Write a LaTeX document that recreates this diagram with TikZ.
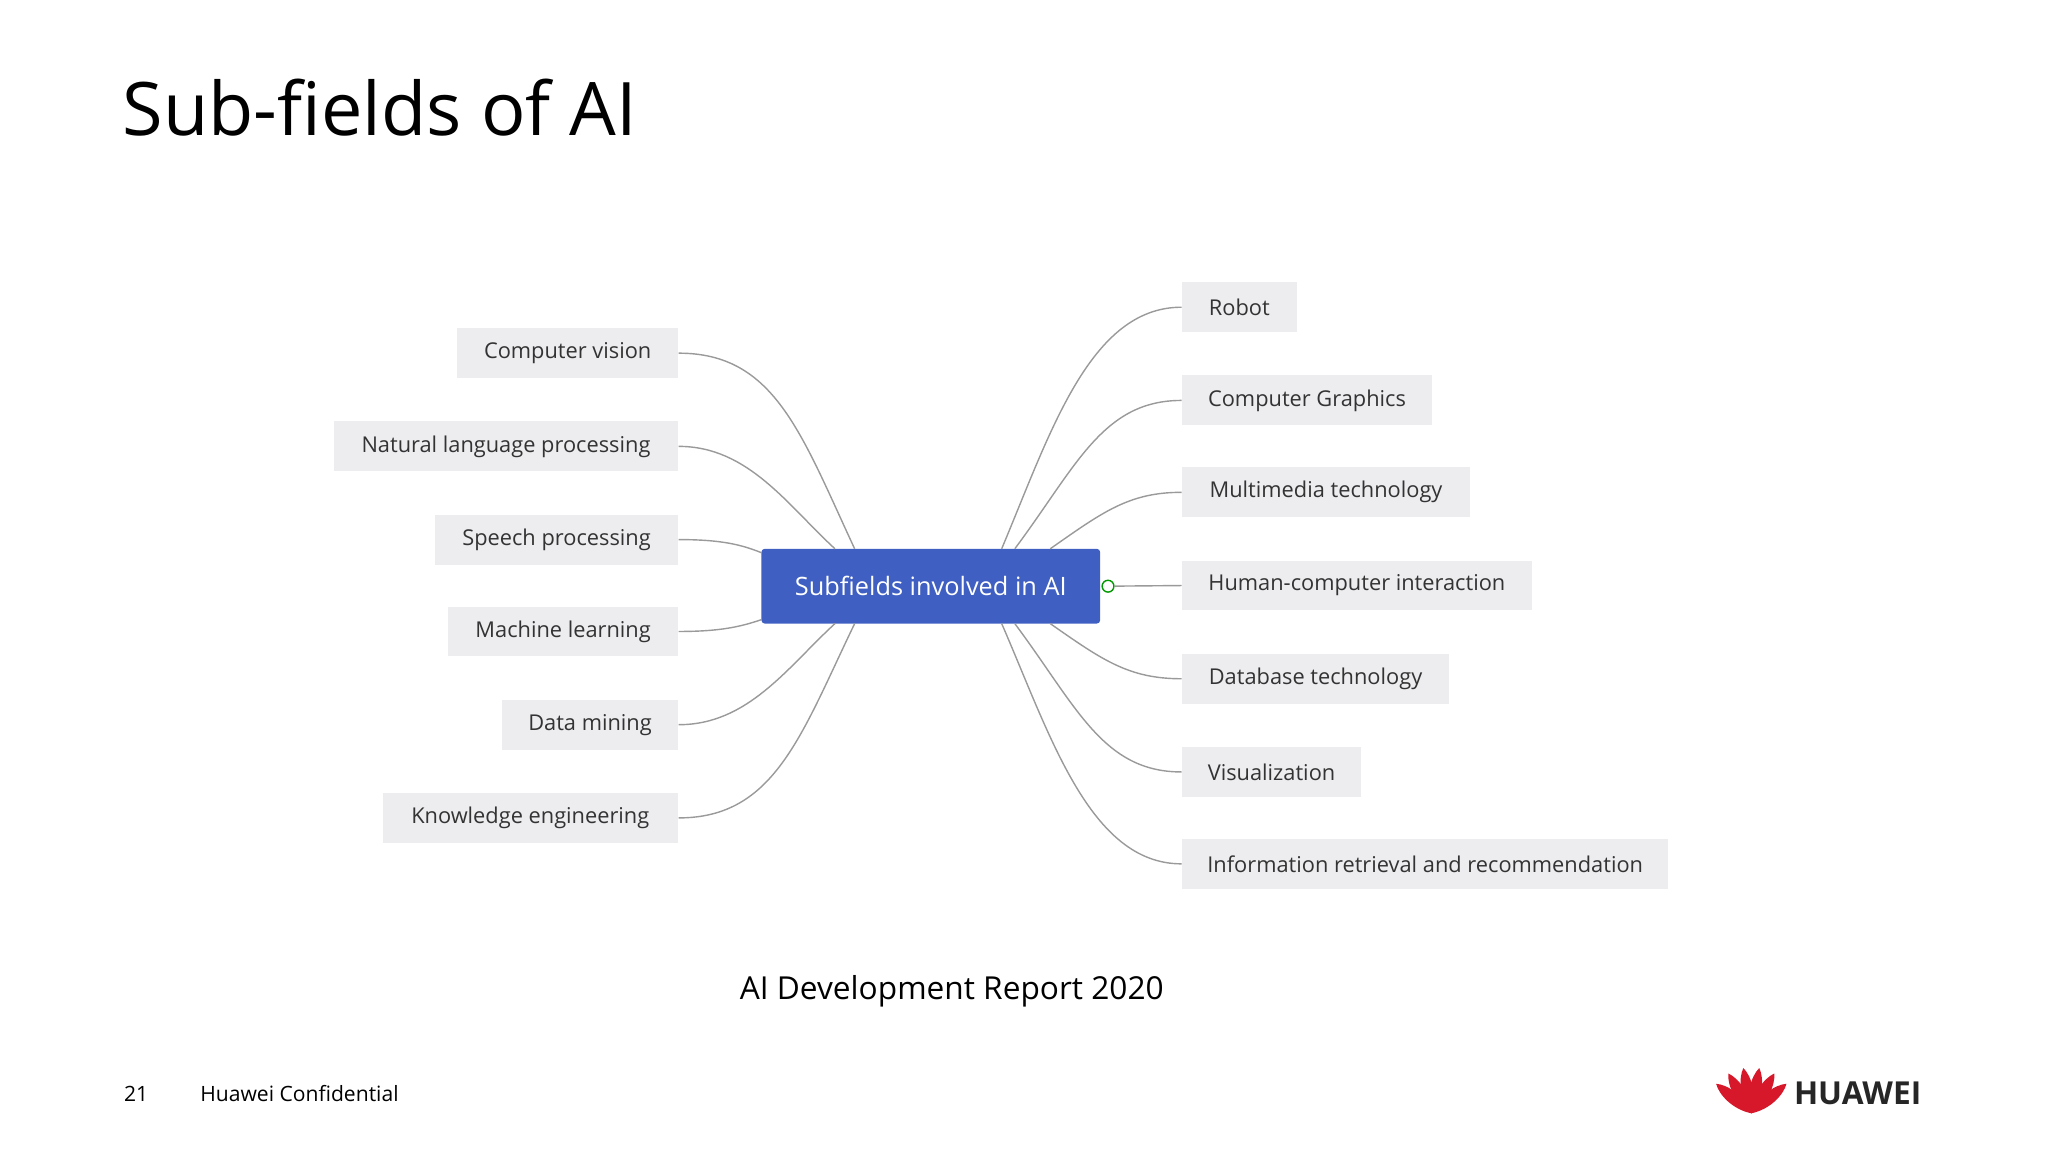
\documentclass[tikz,border=0pt]{standalone}
\usepackage{fontspec}
\setmainfont{Open Sans}
\newdimen\pxu \pxu=0.3735pt
\definecolor{boxg}{HTML}{EDEDF0}
\definecolor{central}{HTML}{3F5FC2}
\definecolor{linkg}{HTML}{9A9A9A}
\definecolor{hred}{HTML}{D7182A}
\begin{document}
\begin{tikzpicture}[x=0.013128cm,y=-0.013128cm,
  leaf/.style={fill=boxg,draw=none,minimum height=38\pxu,inner sep=0pt,font=\fontsize{6.2pt}{8pt}\selectfont,text=black!80},
  lf/.style={leaf,anchor=east},
  rt/.style={leaf,anchor=west},
  link/.style={draw=linkg,line width=0.4pt}]
\useasboundingbox (0,0) rectangle (1560,877.5);
\node[anchor=west,inner sep=0pt,font=\fontsize{21pt}{24pt}\selectfont] (title) at (93,82) {Sub-fields of AI};
\node[fill=central,rounded corners=1pt,minimum width=258\pxu,minimum height=57\pxu,inner sep=0pt,text=white,font=\fontsize{7.2pt}{9pt}\selectfont] (c) at (709,446.5) {Subfields involved in AI};
% left
\node[lf,minimum width=168\pxu] (cv) at (517,269) {Computer vision};
\node[lf,minimum width=262\pxu] (nlp) at (517,340) {Natural language processing};
\node[lf,minimum width=185\pxu] (sp) at (517,411) {Speech processing};
\node[lf,minimum width=175\pxu] (ml) at (517,481) {Machine learning};
\node[lf,minimum width=134\pxu] (dm) at (517,552) {Data mining};
\node[lf,minimum width=225\pxu] (ke) at (517,623) {Knowledge engineering};
% right
\node[rt,minimum width=87\pxu] (rb) at (900,234) {Robot};
\node[rt,minimum width=190\pxu] (cg) at (900,305) {Computer Graphics};
\node[rt,minimum width=219\pxu] (mt) at (900,375) {Multimedia technology};
\node[rt,minimum width=266\pxu] (hci) at (900,446) {Human-computer interaction};
\node[rt,minimum width=203\pxu] (db) at (900,517) {Database technology};
\node[rt,minimum width=136\pxu] (vis) at (900,588) {Visualization};
\node[rt,minimum width=370\pxu] (ir) at (900,658) {Information retrieval and recommendation};
% anchor coordinates on central node
\coordinate (l1) at (651,418); \coordinate (l2) at (636,418); \coordinate (l3) at (580,421);
\coordinate (l4) at (580,472); \coordinate (l5) at (636,475); \coordinate (l6) at (651,475);
\coordinate (r1) at (763,418); \coordinate (r2) at (773,418); \coordinate (r3) at (800,418);
\coordinate (r5) at (800,475); \coordinate (r6) at (773,475); \coordinate (r7) at (763,475);
\node[circle,draw=green!60!black,fill=white,minimum size=9\pxu,inner sep=0pt,line width=0.4pt] (dot) at (844,446.5) {};
\draw[link] (cv.east) .. controls (590,269) and (610,330) .. (l1);
\draw[link] (nlp.east) .. controls (570,340) and (600,385) .. (l2);
\draw[link] (sp.east) .. controls (550,411) and (565,415) .. (l3);
\draw[link] (ml.east) .. controls (550,481) and (565,477) .. (l4);
\draw[link] (dm.east) .. controls (570,552) and (600,508) .. (l5);
\draw[link] (ke.east) .. controls (590,623) and (610,560) .. (l6);
\draw[link] (r1) .. controls (800,330) and (830,234) .. (rb.west);
\draw[link] (r2) .. controls (820,355) and (840,305) .. (cg.west);
\draw[link] (r3) .. controls (840,390) and (860,375) .. (mt.west);
\draw[link] (dot) -- (hci.west);
\draw[link] (r5) .. controls (840,503) and (860,517) .. (db.west);
\draw[link] (r6) .. controls (820,538) and (840,588) .. (vis.west);
\draw[link] (r7) .. controls (800,560) and (830,658) .. (ir.west);
\node[font=\fontsize{9pt}{11pt}\selectfont] (cap) at (725,755) {AI Development Report 2020};
\node[anchor=west,inner sep=0pt,font=\fontsize{6pt}{8pt}\selectfont] (pg) at (94,833) {21};
\node[anchor=west,inner sep=0pt,font=\fontsize{6pt}{8pt}\selectfont] (conf) at (152,833) {Huawei Confidential};
% logo
\foreach \a in {-50,-30,-10,10,30,50}
  \fill[hred,rotate around={\a:(1334,848)}] (1334,848) .. controls (1327,835) and (1329,820) .. (1334,813) .. controls (1339,820) and (1341,835) .. (1334,848);
\node[anchor=west,inner sep=0pt,font=\fontsize{9pt}{11pt}\selectfont\bfseries,text=black!85] (hw) at (1366,833) {HUAWEI};
\end{tikzpicture}
\end{document}
